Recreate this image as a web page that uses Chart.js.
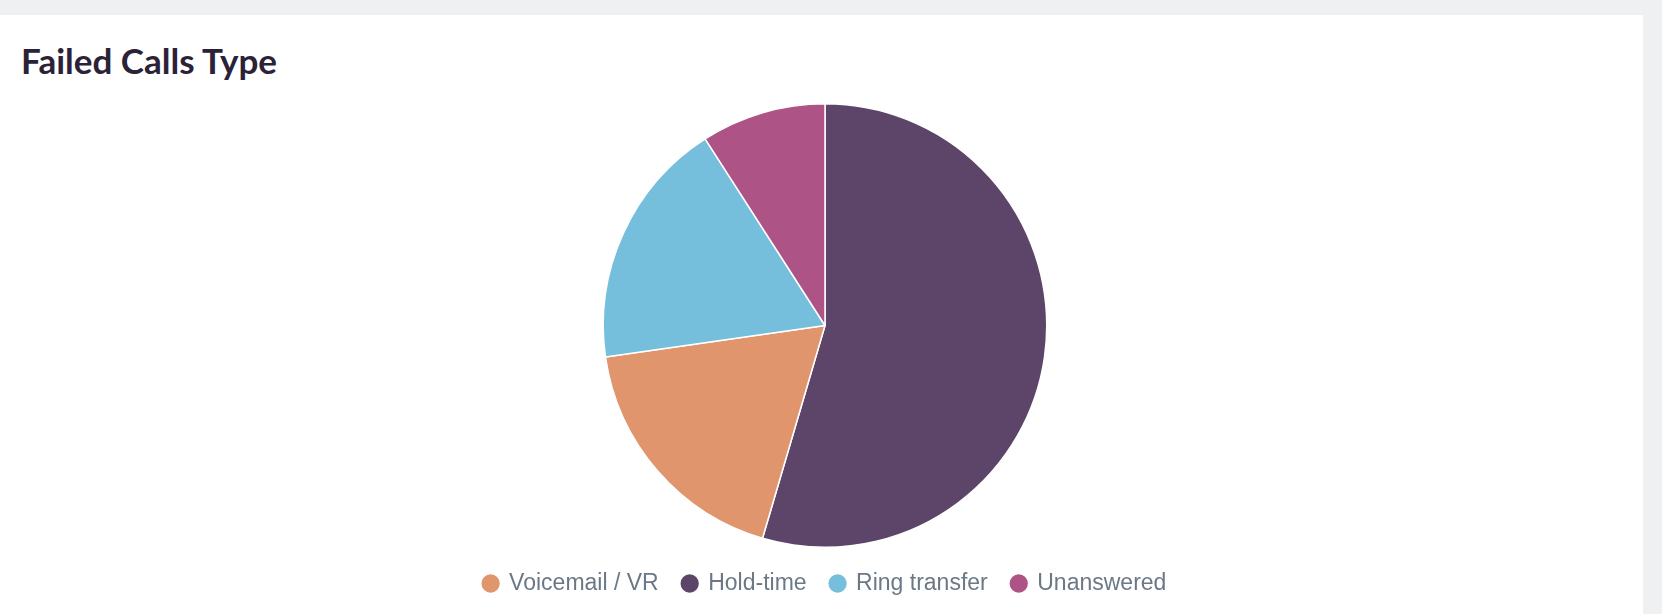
<!DOCTYPE html>
<html><head><meta charset="utf-8">
<script src="https://cdn.jsdelivr.net/npm/chart.js@4"></script>
<style>
html,body{margin:0;padding:0;background:#eff0f2;width:1662px;height:614px;overflow:hidden}
#card{position:absolute;left:0;top:15px;width:1643px;height:600px;background:#fff}
h1{position:absolute;left:21px;top:24px;margin:0;font:bold 35px Lato,sans-serif;color:#2b2238}
#wrap{position:absolute;left:0;top:86px;width:1650px;height:504px}
</style></head><body>
<div id="card"><h1>Failed Calls Type</h1><div id="wrap"><canvas id="c"></canvas></div></div>
<script>
const categories=["Hold-time","Voicemail / VR","Ring transfer","Unanswered"];
const values=[6,2,2,1];
const colors=["#5c4569","#e0956d","#75bfdd","#ae5386"];
const legendOrder=["Voicemail / VR","Hold-time","Ring transfer","Unanswered"];
new Chart(document.getElementById('c'),{type:'pie',
data:{labels:categories,datasets:[{data:values,backgroundColor:colors,borderColor:'#fff',borderWidth:1.5}]},
options:{responsive:true,maintainAspectRatio:false,animation:false,
layout:{padding:{top:2}},
plugins:{tooltip:{enabled:false},legend:{position:'bottom',
labels:{usePointStyle:true,pointStyle:'circle',boxWidth:14,boxHeight:14,padding:24,color:'#6b7886',font:{family:'Liberation Sans, Arial',size:23},
sort:(a,b)=>legendOrder.indexOf(a.text)-legendOrder.indexOf(b.text)}}}}});
</script></body></html>
